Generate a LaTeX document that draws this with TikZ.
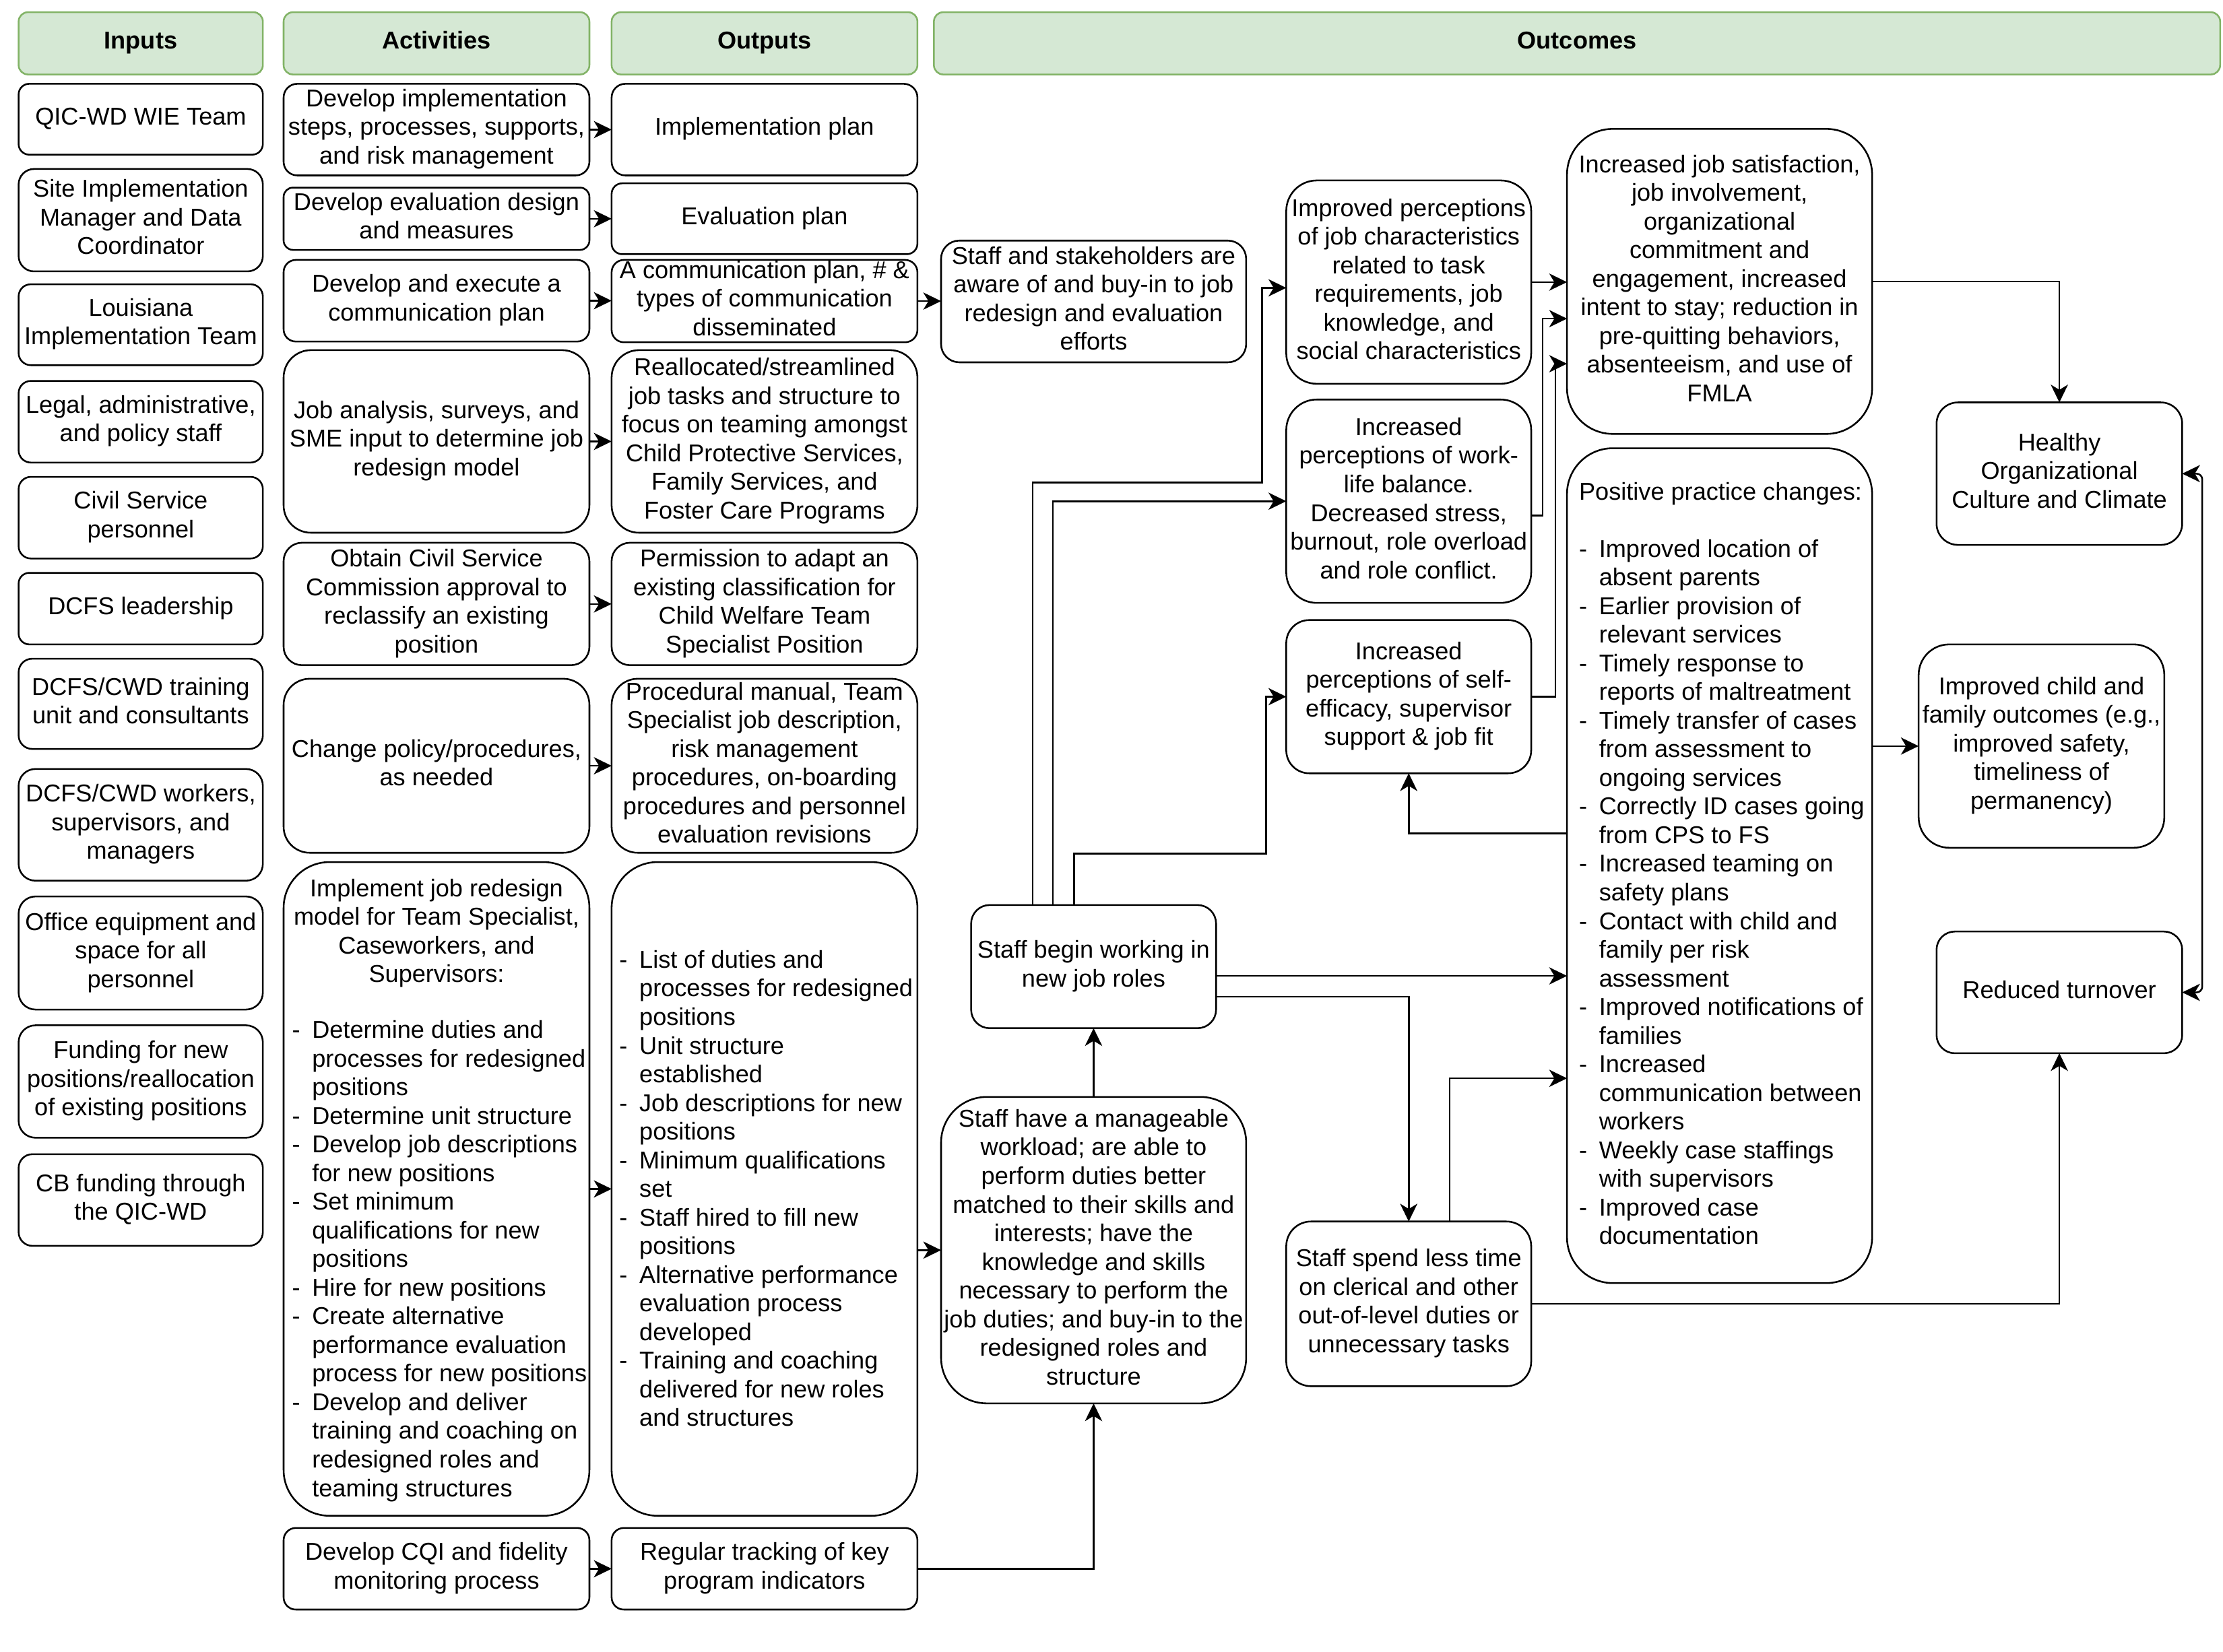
\documentclass[tikz,border=0pt]{standalone}
\usepackage{fontspec}
\setmainfont{Liberation Sans}
\usetikzlibrary{arrows.meta}
\definecolor{hdrfill}{HTML}{D5E8D4}
\definecolor{hdrline}{HTML}{82B366}
\newcommand{\tf}{\fontsize{8.5pt}{10pt}\selectfont}
\newcommand{\li}{\makebox[7pt][l]{-}}
\newcommand{\lc}{\hspace*{7pt}}
\tikzset{
 box/.style={draw=black, line width=0.6pt, fill=white, inner sep=0pt, outer sep=0pt},
 hdr/.style={draw=hdrline, fill=hdrfill},
 txt/.style={align=center, font=\tf, inner sep=0pt},
 txtl/.style={align=left, font=\tf, inner sep=0pt, anchor=west},
 arr/.style={line width=0.6pt, -{Stealth[length=6.2pt,width=6pt,inset=1.8pt]}},
 arrtwo/.style={line width=0.6pt, {Stealth[length=6.2pt,width=6pt,inset=1.8pt]}-{Stealth[length=6.2pt,width=6pt,inset=1.8pt]}},
}
% \bx[opts]{name}{x1}{y1}{x2}{y2}{text}
\newcommand{\bx}[7][]{%
 \pgfmathsetmacro\bw{(#5-#3)*0.5}%
 \pgfmathsetmacro\bh{(#6-#4)*0.5}%
 \pgfmathsetmacro\br{0.15*min(\bw,\bh)}%
 \node[box,minimum width=\bw pt,minimum height=\bh pt,rounded corners=\br pt,
   label={[txt]center:{\strut #7\strut}},#1] (#2) at ({(#3+#5)/2},{(#4+#6)/2}) {};}
\begin{document}
\begin{tikzpicture}[x=0.5pt,y=-0.5pt]
\useasboundingbox (0,0) rectangle (1552,1153.6);
\fill[white] (0,0) rectangle (1552,1153.6);
% headers
\bx[hdr]{hI}{13}{8.5}{183.5}{52}{\textbf{Inputs}}
\bx[hdr]{hA}{198}{8.5}{411.5}{52}{\textbf{Activities}}
\bx[hdr]{hO}{427}{8.5}{640.5}{52}{\textbf{Outputs}}
\bx[hdr]{hC}{652}{8.5}{1550}{52}{\textbf{Outcomes}}
% inputs
\bx{I1}{13}{58.5}{183.5}{108}{QIC-WD WIE Team}
\bx{I2}{13}{118}{183.5}{189.5}{Site Implementation\\Manager and Data\\Coordinator}
\bx{I3}{13}{198.5}{183.5}{255}{Louisiana\\Implementation Team}
\bx{I4}{13}{266}{183.5}{323}{Legal, administrative,\\and policy staff}
\bx{I5}{13}{333}{183.5}{390}{Civil Service\\personnel}
\bx{I6}{13}{400}{183.5}{450}{DCFS leadership}
\bx{I7}{13}{460}{183.5}{523}{DCFS/CWD training\\unit and consultants}
\bx{I8}{13}{537}{183.5}{615}{DCFS/CWD workers,\\supervisors, and\\managers}
\bx{I9}{13}{626}{183.5}{705}{Office equipment and\\space for all\\personnel}
\bx{I10}{13}{716}{183.5}{794.5}{Funding for new\\positions/reallocation\\of existing positions}
\bx{I11}{13}{806}{183.5}{870}{CB funding through\\the QIC-WD}
% activities
\bx{A1}{198}{58.5}{411.5}{122.5}{Develop implementation\\steps, processes, supports,\\and risk management}
\bx{A2}{198}{131}{411.5}{174.5}{Develop evaluation design\\and measures}
\bx{A3}{198}{181.5}{411.5}{238.5}{Develop and execute a\\communication plan}
\bx{A4}{198}{244.5}{411.5}{372}{Job analysis, surveys, and\\SME input to determine job\\redesign model}
\bx{A5}{198}{379}{411.5}{464.5}{Obtain Civil Service\\Commission approval to\\reclassify an existing\\position}
\bx{A6}{198}{474}{411.5}{595.5}{Change policy/procedures,\\as needed}
\bx{A7}{198}{602}{411.5}{1058.5}{}
\bx{A8}{198}{1067}{411.5}{1124}{Develop CQI and fidelity\\monitoring process}
\node[txt] (A7h) at (304.75,652) {\strut Implement job redesign\\model for Team Specialist,\\Caseworkers, and\\Supervisors:\strut};
\node[txtl] (A7l) at (203.5,881) {\strut\li Determine duties and\\ \lc processes for redesigned\\ \lc positions\\
\li Determine unit structure\\
\li Develop job descriptions\\ \lc for new positions\\
\li Set minimum\\ \lc qualifications for new\\ \lc positions\\
\li Hire for new positions\\
\li Create alternative\\ \lc performance evaluation\\ \lc process for new positions\\
\li Develop and deliver\\ \lc training and coaching on\\ \lc redesigned roles and\\ \lc teaming structures\strut};
% outputs
\bx{O1}{427}{58.5}{640.5}{122.5}{Implementation plan}
\bx{O2}{427}{128}{640.5}{177.5}{Evaluation plan}
\bx{O3}{427}{181.5}{640.5}{239}{A communication plan, \# \&\\types of communication\\disseminated}
\bx{O4}{427}{244.5}{640.5}{372}{Reallocated/streamlined\\job tasks and structure to\\focus on teaming amongst\\Child Protective Services,\\Family Services, and\\Foster Care Programs}
\bx{O5}{427}{379}{640.5}{464.5}{Permission to adapt an\\existing classification for\\Child Welfare Team\\Specialist Position}
\bx{O6}{427}{474}{640.5}{595.5}{Procedural manual, Team\\Specialist job description,\\risk management\\procedures, on-boarding\\procedures and personnel\\evaluation revisions}
\bx{O7}{427}{602}{640.5}{1058.5}{}
\bx{O8}{427}{1067}{640.5}{1124}{Regular tracking of key\\program indicators}
\node[txtl] (O7l) at (432,832) {\strut\li List of duties and\\ \lc processes for redesigned\\ \lc positions\\
\li Unit structure\\ \lc established\\
\li Job descriptions for new\\ \lc positions\\
\li Minimum qualifications\\ \lc set\\
\li Staff hired to fill new\\ \lc positions\\
\li Alternative performance\\ \lc evaluation process\\ \lc developed\\
\li Training and coaching\\ \lc delivered for new roles\\ \lc and structures\strut};
% outcomes
\bx{S1}{657}{168}{870}{253}{Staff and stakeholders are\\aware of and buy-in to job\\redesign and evaluation\\efforts}
\bx{P1}{898}{126}{1069}{268}{Improved perceptions\\of job characteristics\\related to task\\requirements, job\\knowledge, and\\social characteristics}
\bx{P2}{898}{279}{1069}{421}{Increased\\perceptions of work-\\life balance.\\Decreased stress,\\burnout, role overload\\and role conflict.}
\bx{P3}{898}{433}{1069}{540}{Increased\\perceptions of self-\\efficacy, supervisor\\support \& job fit}
\bx{J}{1094}{90}{1307}{303}{Increased job satisfaction,\\job involvement,\\organizational\\commitment and\\engagement, increased\\intent to stay; reduction in\\pre-quitting behaviors,\\absenteeism, and use of\\FMLA}
\bx{PP}{1094}{313}{1307}{896}{}
\node[txtl] (PPl) at (1102,605) {\strut Positive practice changes:\\[10pt]
\li Improved location of\\ \lc absent parents\\
\li Earlier provision of\\ \lc relevant services\\
\li Timely response to\\ \lc reports of maltreatment\\
\li Timely transfer of cases\\ \lc from assessment to\\ \lc ongoing services\\
\li Correctly ID cases going\\ \lc from CPS to FS\\
\li Increased teaming on\\ \lc safety plans\\
\li Contact with child and\\ \lc family per risk\\ \lc assessment\\
\li Improved notifications of\\ \lc families\\
\li Increased\\ \lc communication between\\ \lc workers\\
\li Weekly case staffings\\ \lc with supervisors\\
\li Improved case\\ \lc documentation\strut};
\bx{H}{1352}{281}{1523.5}{380.5}{Healthy\\Organizational\\Culture and Climate}
\bx{C}{1339.5}{450}{1511}{592}{Improved child and\\family outcomes (e.g.,\\improved safety,\\timeliness of\\permanency)}
\bx{R}{1352}{650.5}{1523.5}{735.5}{Reduced turnover}
\bx{SB}{678}{632}{849}{718}{Staff begin working in\\new job roles}
\bx{SM}{657}{766}{870}{980}{Staff have a manageable\\workload; are able to\\perform duties better\\matched to their skills and\\interests; have the\\knowledge and skills\\necessary to perform the\\job duties; and buy-in to the\\redesigned roles and\\structure}
\bx{SL}{898}{853}{1069}{968}{Staff spend less time\\on clerical and other\\out-of-level duties or\\unnecessary tasks}
% connectors activities -> outputs
\foreach \k in {1,...,8}{\draw[arr] (A\k.east) -- (A\k.east -| O\k.west);}
\draw[arr] (O3.east) -- (O3.east -| S1.west);
\draw[arr] (O7.east |- SM.west) -- (SM.west);
\draw[arr] (O8.east) -| (SM.south);
\draw[arr] (SM.north) -- (SB.south);
\draw[arr] (SB.north -| 721,0) |- (881,337) |- (P1.west |- 0,201);
\draw[arr] (SB.north -| 735,0) |- (P2.west);
\draw[arr] (SB.north -| 750,0) |- (884,596) |- (P3.west);
\draw[arr] (SB.east |- 0,681.5) -- (PP.west |- 0,681.5);
\draw[arr] (SB.east |- 0,696) -| (SL.north);
\draw[arr] (SL.north -| 1012,0) |- (PP.west |- 0,753);
\draw[arr] (SL.east) -| (R.south);
\draw[arr] (PP.west |- 0,582) -| (P3.south);
\draw[arr] (PP.east |- C.west) -- (C.west);
\draw[arr] (P1.east) -- (P1.east -| J.west);
\draw[arr] (P2.east |- 0,360) -| (1077,222.5) -- (J.west |- 0,222.5);
\draw[arr] (P3.east) -| (1086,254) -- (J.west |- 0,254);
\draw[arr] (J.east) -| (H.north);
\draw[arrtwo, rounded corners=2pt] (H.east) -- (H.east -| 1537.5,0) -- (R.east -| 1537.5,0) -- (R.east);
\end{tikzpicture}
\end{document}
